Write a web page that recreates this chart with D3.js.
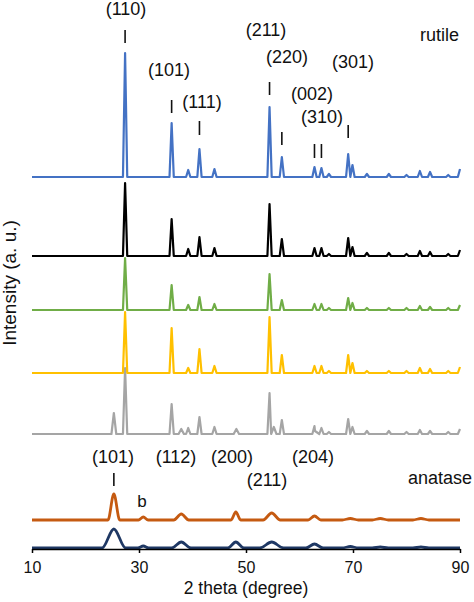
<!DOCTYPE html>
<html><head><meta charset="utf-8">
<script src="https://cdn.jsdelivr.net/npm/d3@7"></script>
<style>body{margin:0;background:#fff} text{font-family:"Liberation Sans",Arial,sans-serif;fill:#111}</style>
</head><body><svg id="c" width="474" height="602"></svg>
<script>
// ---- data ----
const xTicks = [10, 30, 50, 70, 90];
const xTitle = "2 theta (degree)";
const yTitle = "Intensity (a. u.)";
// rutile reflections (2θ, degree)
const rutilePos = [27.4, 36.1, 39.2, 41.3, 44.1, 54.4, 56.7, 62.8, 64.1, 65.5, 69.1, 69.9, 72.6, 76.7, 80.0, 82.5, 84.4, 87.8, 90.0];
const blueI   = [124, 54, 7, 28, 8, 70, 20, 10, 9, 3, 23, 12, 3, 3, 2, 6, 5, 2, 8];
const blackI  = [73, 37, 7, 19, 8, 52, 17, 8, 8, 2, 18, 9, 3, 3, 2, 5, 4, 2, 6];
const greenI  = [52, 25, 5, 13, 6, 36, 10, 6, 6, 2, 12, 7, 2, 2, 2, 4, 3, 2, 5];
const yellowI = [61, 45, 5, 24, 7, 56, 18, 7, 7, 2, 18, 10, 2, 2, 2, 5, 4, 2, 6];
const grayI   = [66, 30, 6, 17, 7, 41, 14, 8, 6, 2, 15, 7, 3, 3, 2, 4, 3, 2, 5];
// anatase reflections present in the mixed (gray) sample
const grayAnatasePos = [25.3, 37.9, 48.2, 55.2, 62.9];
const grayAnataseI   = [21, 5, 5, 7, 3];
// anatase reflections
const anatasePos = [25.3, 30.8, 37.9, 48.1, 54.8, 62.8, 69.5, 75.1, 82.7];
const orangeI = [26, 3, 6, 8, 7, 4, 1.5, 1.5, 1.5];
const navyI   = [19, 2, 6, 6, 6, 4, 1.5, 1, 1];
const rutileLabels  = ["(110)", "(101)", "(111)", "(211)", "(220)", "(002)", "(310)", "(301)"];
const anataseLabels = ["(101)", "(112)", "(200)", "(204)", "(211)"];
const phaseNames = ["rutile", "anatase"];
const extraLabel = "b";

// ---- drawing ----
const svg = d3.select("#c");
const x = d3.scaleLinear().domain([10, 90]).range([32, 460]);
const y = d3.scaleLinear().domain([0, 520]).range([549, 29]);

function peaksToPoints(pos, hts, halfW) {
  const pk = pos.map((p, i) => ({p, h: hts[i], w: Array.isArray(halfW) ? halfW[i] : halfW}))
    .sort((a, b) => a.p - b.p);
  const pts = [[10, 0]];
  pk.forEach((d, i) => {
    const lf = Math.max(10, d.p - d.w);
    if (lf > pts[pts.length - 1][0]) pts.push([lf, 0]);
    pts.push([Math.min(90, d.p), d.h]);
    const rf = d.p + d.w;
    const next = pk[i + 1];
    if (rf < 90 && (!next || rf < next.p - next.w)) pts.push([rf, 0]);
  });
  if (pts[pts.length - 1][0] < 90) pts.push([90, 0]);
  return pts;
}

const series = [
  {pts: peaksToPoints(anatasePos, navyI, [2.2, 1.0, 1.8, 1.5, 2.2, 1.6, 1.5, 1.5, 1.5]), color: "#1f3864", off: 1, w: 2.8, curve: d3.curveMonotoneX},
  {pts: peaksToPoints(anatasePos, orangeI, [1.1, 0.9, 1.4, 0.9, 1.6, 1.2, 1.5, 1.5, 1.5]), color: "#c55a11", off: 29, w: 2.8, curve: d3.curveMonotoneX},
  {pts: peaksToPoints(rutilePos.concat(grayAnatasePos), grayI.concat(grayAnataseI), rutilePos.map(() => 0.4).concat([0.45, 0.5, 0.5, 0.5, 0.8])), color: "#a5a5a5", off: 115, w: 2.2, curve: d3.curveLinear},
  {pts: peaksToPoints(rutilePos, yellowI, 0.4), color: "#ffc000", off: 176, w: 2.2, curve: d3.curveLinear},
  {pts: peaksToPoints(rutilePos, greenI, 0.4), color: "#70ad47", off: 239, w: 2.2, curve: d3.curveLinear},
  {pts: peaksToPoints(rutilePos, blackI, 0.4), color: "#000000", off: 293, w: 2.2, curve: d3.curveLinear},
  {pts: peaksToPoints(rutilePos, blueI, 0.4), color: "#4472c4", off: 372, w: 2.2, curve: d3.curveLinear}
];

series.forEach(s => {
  const line = d3.line().x(d => x(d[0])).y(d => y(d[1] + s.off)).curve(s.curve);
  svg.append("path").attr("d", line(s.pts)).attr("fill", "none")
    .attr("stroke", s.color).attr("stroke-width", s.w).attr("stroke-linejoin", "round");
});

// x axis
const ax = svg.append("g").attr("transform", `translate(0,${y(0)})`)
  .call(d3.axisBottom(x).tickValues(xTicks).tickSize(4).tickSizeOuter(0).tickPadding(9));
ax.select(".domain").attr("stroke", "#000").attr("stroke-width", 1.5);
ax.selectAll(".tick line").attr("stroke", "#000").attr("stroke-width", 1.5);
ax.selectAll(".tick text").style("font-size", "16px").style("font-family", "Liberation Sans, Arial, sans-serif").attr("fill", "#111");

svg.append("text").attr("x", 246).attr("y", 594).attr("text-anchor", "middle")
  .style("font-size", "17.5px").text(xTitle);
svg.append("text").attr("transform", "translate(16,283) rotate(-90)").attr("text-anchor", "middle")
  .style("font-size", "19px").text(yTitle);

// rutile labels
const rl = [[126, 15], [169, 76], [202, 108], [266, 36], [287, 63], [312, 100], [322, 123], [353, 68]];
rutileLabels.forEach((t, i) => svg.append("text").attr("x", rl[i][0]).attr("y", rl[i][1])
  .attr("text-anchor", "middle").style("font-size", "18px").text(t));
const rm = [[27.4, 30, 43], [36.1, 100, 113], [41.3, 121, 135], [54.4, 82, 95], [56.7, 132, 145], [62.8, 144, 158], [64.1, 144, 158], [69.1, 125, 138]];
rm.forEach(m => svg.append("line").attr("x1", x(m[0])).attr("x2", x(m[0])).attr("y1", m[1]).attr("y2", m[2])
  .attr("stroke", "#111").attr("stroke-width", 1.6));
svg.append("text").attr("x", 459).attr("y", 41).attr("text-anchor", "end").style("font-size", "18px").text(phaseNames[0]);

// anatase labels
const al = [[113, 463], [176, 463], [232, 463], [313, 463], [267, 486]];
anataseLabels.forEach((t, i) => svg.append("text").attr("x", al[i][0]).attr("y", al[i][1])
  .attr("text-anchor", "middle").style("font-size", "18px").text(t));
svg.append("line").attr("x1", x(25.3)).attr("x2", x(25.3)).attr("y1", 473).attr("y2", 486)
  .attr("stroke", "#111").attr("stroke-width", 1.6);
svg.append("text").attr("x", 472).attr("y", 484).attr("text-anchor", "end").style("font-size", "18px").text(phaseNames[1]);
svg.append("text").attr("x", 142).attr("y", 507).attr("text-anchor", "middle").style("font-size", "17px").text(extraLabel);
</script></body></html>
